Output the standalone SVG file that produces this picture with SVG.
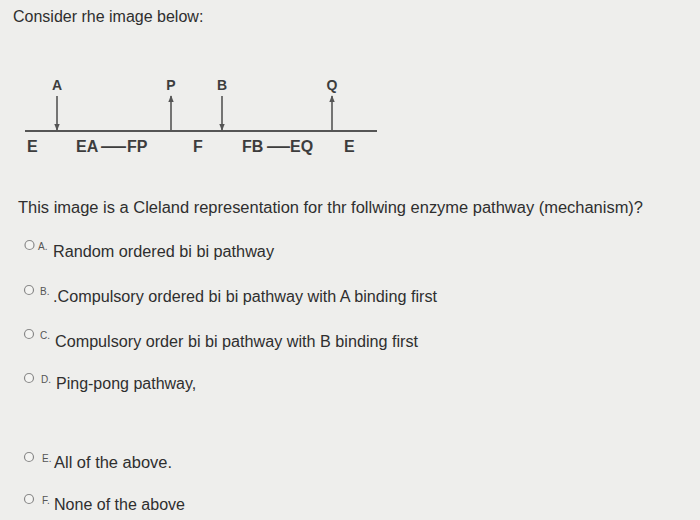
<svg xmlns="http://www.w3.org/2000/svg" width="700" height="520" viewBox="0 0 700 520">
<style>
.t{font-family:"Liberation Sans",Arial,sans-serif;font-size:16px;fill:#2f2f2f}
.d{font-family:"Liberation Sans",Arial,sans-serif;font-weight:bold;fill:#3d3d3d}
.top{font-size:14px;text-anchor:middle}
.bot{font-size:16px}
.lab{font-family:"Liberation Sans",Arial,sans-serif;font-size:10px;fill:#555}
.rad{fill:#f4f4f2;stroke:#888;stroke-width:1.2}
.ln{stroke:#555;stroke-width:2;fill:none}
.ar{stroke:#555;stroke-width:1.6;fill:none}
</style>
<defs>
<marker id="ah" viewBox="0 0 10 10" refX="9" refY="5" markerWidth="4.5" markerHeight="4.5" orient="auto"><path d="M0,1 L10,5 L0,9 z" fill="#555"/></marker>
</defs>
<rect width="700" height="520" fill="#eeeeec"/>
<text class="t" x="13" y="22">Consider rhe image below:</text>

<g id="baseline"><line class="ln" x1="25" y1="131" x2="377" y2="131"/></g>
<g id="connectors">
<line class="ar" x1="57" y1="96" x2="57" y2="130" marker-end="url(#ah)"/>
<line class="ar" x1="171" y1="130" x2="171" y2="96" marker-end="url(#ah)"/>
<line class="ar" x1="222" y1="96" x2="222" y2="130" marker-end="url(#ah)"/>
<line class="ar" x1="332" y1="130" x2="332" y2="96" marker-end="url(#ah)"/>
</g>
<g id="node-A"><text class="d top" x="57" y="90">A</text></g>
<g id="node-P"><text class="d top" x="171" y="90">P</text></g>
<g id="node-B"><text class="d top" x="222" y="90">B</text></g>
<g id="node-Q"><text class="d top" x="332" y="90">Q</text></g>
<g id="node-E1"><text class="d bot" x="27" y="152">E</text></g>
<g id="node-EAFP"><text class="d bot" y="152"><tspan x="76">EA</tspan><tspan x="101" textLength="25" lengthAdjust="spacingAndGlyphs">—</tspan><tspan x="127">FP</tspan></text></g>
<g id="node-F"><text class="d bot" x="193" y="152">F</text></g>
<g id="node-FBEQ"><text class="d bot" y="152"><tspan x="242">FB</tspan><tspan x="267" textLength="23" lengthAdjust="spacingAndGlyphs">—</tspan><tspan x="290">EQ</tspan></text></g>
<g id="node-E2"><text class="d bot" x="344" y="152">E</text></g>

<text class="t" x="18" y="213" textLength="625" lengthAdjust="spacingAndGlyphs">This image is a Cleland representation for thr follwing enzyme pathway (mechanism)?</text>

<g id="optA"><circle class="rad" cx="29.5" cy="245" r="4.5"/><text class="lab" x="38" y="250">A.</text><text class="t" x="53" y="257" textLength="221" lengthAdjust="spacingAndGlyphs">Random ordered bi bi pathway</text></g>
<g id="optB"><circle class="rad" cx="29" cy="290" r="4.5"/><text class="lab" x="40" y="295">B.</text><text class="t" x="53" y="302" textLength="384" lengthAdjust="spacingAndGlyphs">.Compulsory ordered bi bi pathway with A binding first</text></g>
<g id="optC"><circle class="rad" cx="29" cy="334" r="4.5"/><text class="lab" x="40" y="339">C.</text><text class="t" x="55" y="347" textLength="363" lengthAdjust="spacingAndGlyphs">Compulsory order bi bi pathway with B binding first</text></g>
<g id="optD"><circle class="rad" cx="29" cy="378" r="4.5"/><text class="lab" x="41" y="383">D.</text><text class="t" x="56" y="389">Ping-pong pathway,</text></g>
<g id="optE"><circle class="rad" cx="29" cy="457" r="4.5"/><text class="lab" x="42" y="462">E.</text><text class="t" x="54" y="468" textLength="118" lengthAdjust="spacingAndGlyphs">All of the above.</text></g>
<g id="optF"><circle class="rad" cx="29" cy="499" r="4.5"/><text class="lab" x="42" y="504">F.</text><text class="t" x="54" y="510" textLength="131" lengthAdjust="spacingAndGlyphs">None of the above</text></g>
</svg>
